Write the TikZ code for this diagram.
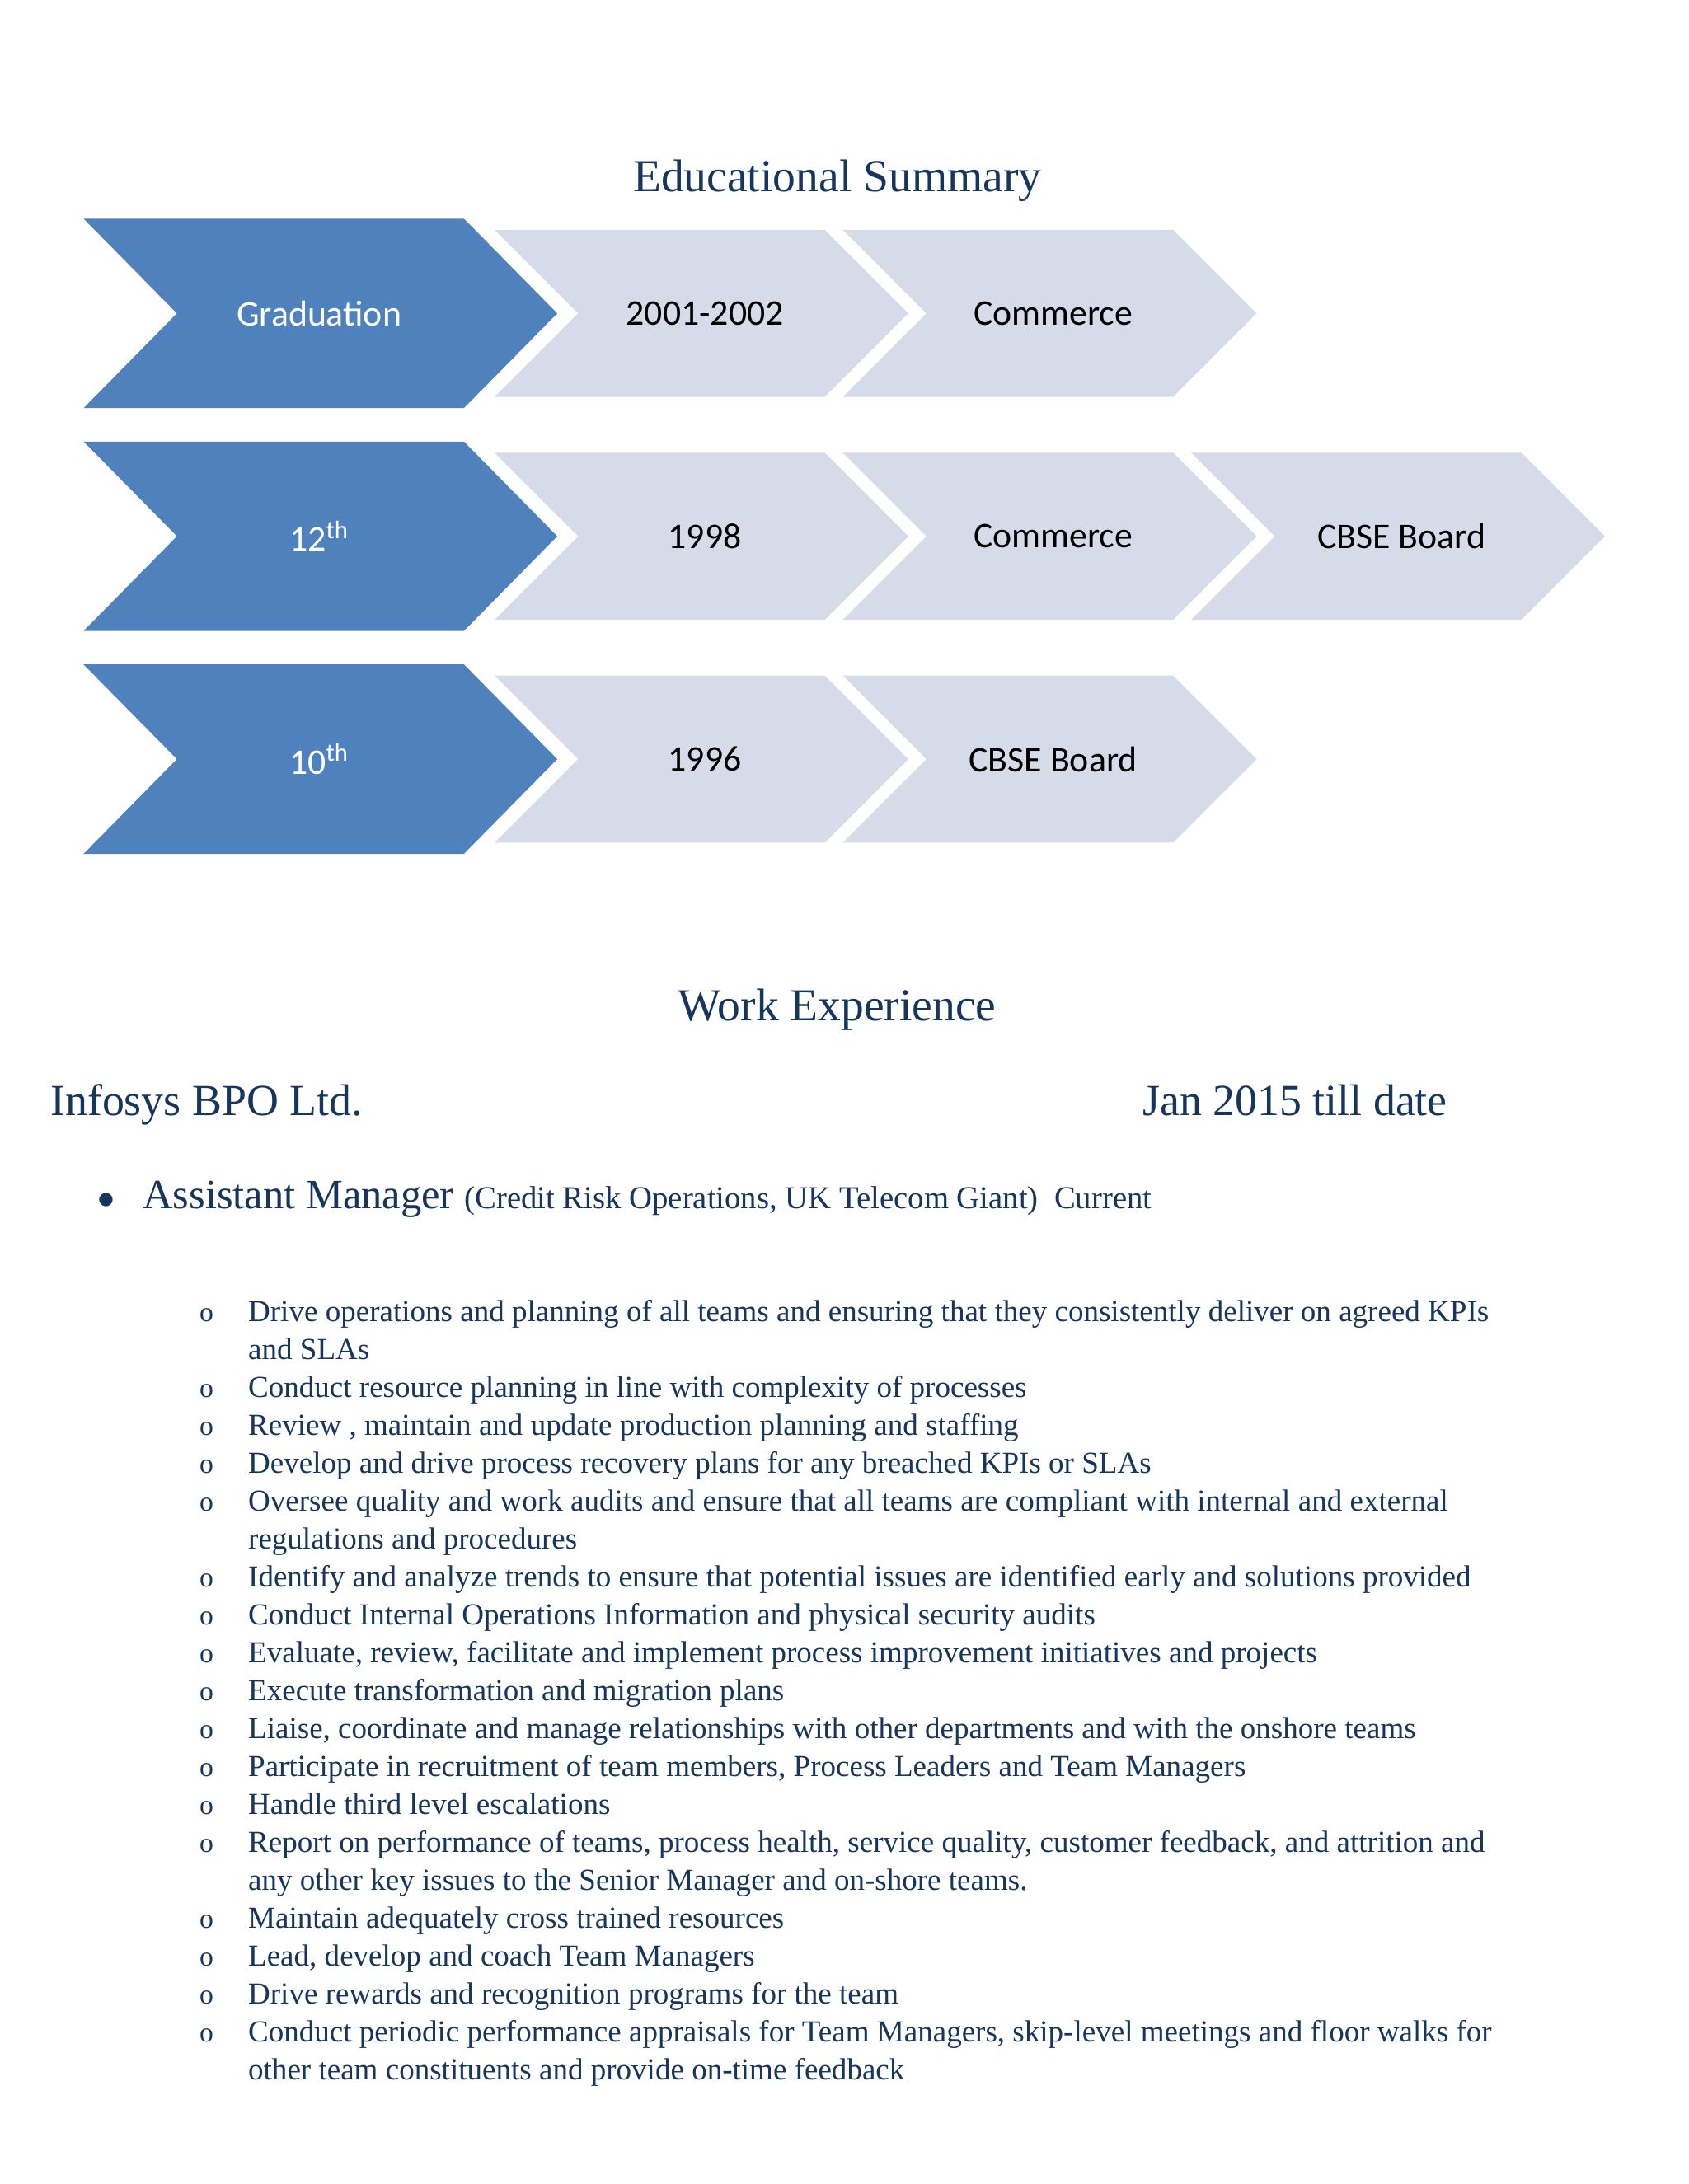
\documentclass[tikz,border=0pt]{standalone}
\usepackage{fontspec}
\setmainfont{Liberation Serif}
\newfontfamily\calfnt{Carlito}
\definecolor{dk}{HTML}{4F81BD}
\definecolor{lt}{HTML}{D6DBEA}
\definecolor{nv}{HTML}{17365D}
\begin{document}
\begin{tikzpicture}[x=1bp,y=-1bp,
 ct/.style={font=\calfnt\fontsize{26}{30}\selectfont,text=black},
 it/.style={anchor=base west,inner sep=0,font=\fontsize{22}{26}\selectfont,text=nv},
 bu/.style={anchor=base west,inner sep=0,font=\fontsize{20}{26}\selectfont,text=nv}]
\useasboundingbox (0,0) rectangle (1212,1568);
\fill[white] (0,0) rectangle (1212,1568);
\node[font=\fontsize{33}{38}\selectfont,text=nv] (t1) at (601,130) {Educational Summary};
\foreach \r/\y in {1/225,2/385,3/545}{
 \fill[dk] (60,\y-68) -- (333,\y-68) -- (400,\y) -- (333,\y+68) -- (60,\y+68) -- (127,\y) -- cycle;
 \foreach \c/\x in {1/355,2/605,3/855}{
  \coordinate (c\r\c) at (\x,\y);
 }
}
\foreach \p in {c11,c12,c21,c22,c23,c31,c32}{
 \fill[lt] (\p) ++(0,-60) -- ++(237,0) -- ++(60,60) -- ++(-60,60) -- ++(-237,0) -- ++(60,-60) -- cycle;
}
\node[ct,text=white] (g) at (229,225) {Graduation};
\node[ct] (a1) at (506,225) {2001-2002};
\node[ct] (a2) at (756,225) {Commerce};
\node[ct,text=white] (h) at (229,385) {12\textsuperscript{th}};
\node[ct] (b1) at (506,385) {1998};
\node[ct] (b2) at (756,385) {Commerce};
\node[ct] (b3) at (1006,385) {CBSE Board};
\node[ct,text=white] (k) at (229,545) {10\textsuperscript{th}};
\node[ct] (e1) at (506,545) {1996};
\node[ct] (e2) at (756,545) {CBSE Board};
\node[font=\fontsize{33}{38}\selectfont,text=nv] (t2) at (601,725) {Work Experience};
\node[anchor=base west,inner sep=0,font=\fontsize{32}{36}\selectfont,text=nv] (inf) at (36,801) {Infosys BPO Ltd.};
\node[anchor=base west,inner sep=0,font=\fontsize{32}{36}\selectfont,text=nv] (jan) at (820,801) {Jan 2015 till date};
\node[anchor=base west,inner sep=0,font=\fontsize{30}{36}\selectfont,text=nv] (am) at (70,868) {$\bullet$\hspace{20bp}Assistant Manager {\fontsize{23}{26}\selectfont (Credit Risk Operations, UK Telecom Giant)\ \ Current}};
\foreach \t [count=\i] in {
Drive operations and planning of all teams and ensuring that they consistently deliver on agreed KPIs,
and SLAs,
Conduct resource planning in line with complexity of processes,
{Review , maintain and update production planning and staffing},
Develop and drive process recovery plans for any breached KPIs or SLAs,
Oversee quality and work audits and ensure that all teams are compliant with internal and external,
regulations and procedures,
Identify and analyze trends to ensure that potential issues are identified early and solutions provided,
Conduct Internal Operations Information and physical security audits,
{Evaluate, review, facilitate and implement process improvement initiatives and projects},
Execute transformation and migration plans,
{Liaise, coordinate and manage relationships with other departments and with the onshore teams},
{Participate in recruitment of team members, Process Leaders and Team Managers},
Handle third level escalations,
{Report on performance of teams, process health, service quality, customer feedback, and attrition and},
any other key issues to the Senior Manager and on-shore teams.,
Maintain adequately cross trained resources,
{Lead, develop and coach Team Managers},
Drive rewards and recognition programs for the team,
{Conduct periodic performance appraisals for Team Managers, skip-level meetings and floor walks for},
other team constituents and provide on-time feedback}{
 \pgfmathsetmacro\yy{949+(\i-1)*27.2}
 \node[it] (l\i) at (178,\yy) {\t};
}
\foreach \i in {1,3,4,5,6,8,9,10,11,12,13,14,15,17,18,19,20}{
 \pgfmathsetmacro\yy{949+(\i-1)*27.2}
 \node[bu] (o\i) at (143,\yy) {o};
}
\end{tikzpicture}
\end{document}
